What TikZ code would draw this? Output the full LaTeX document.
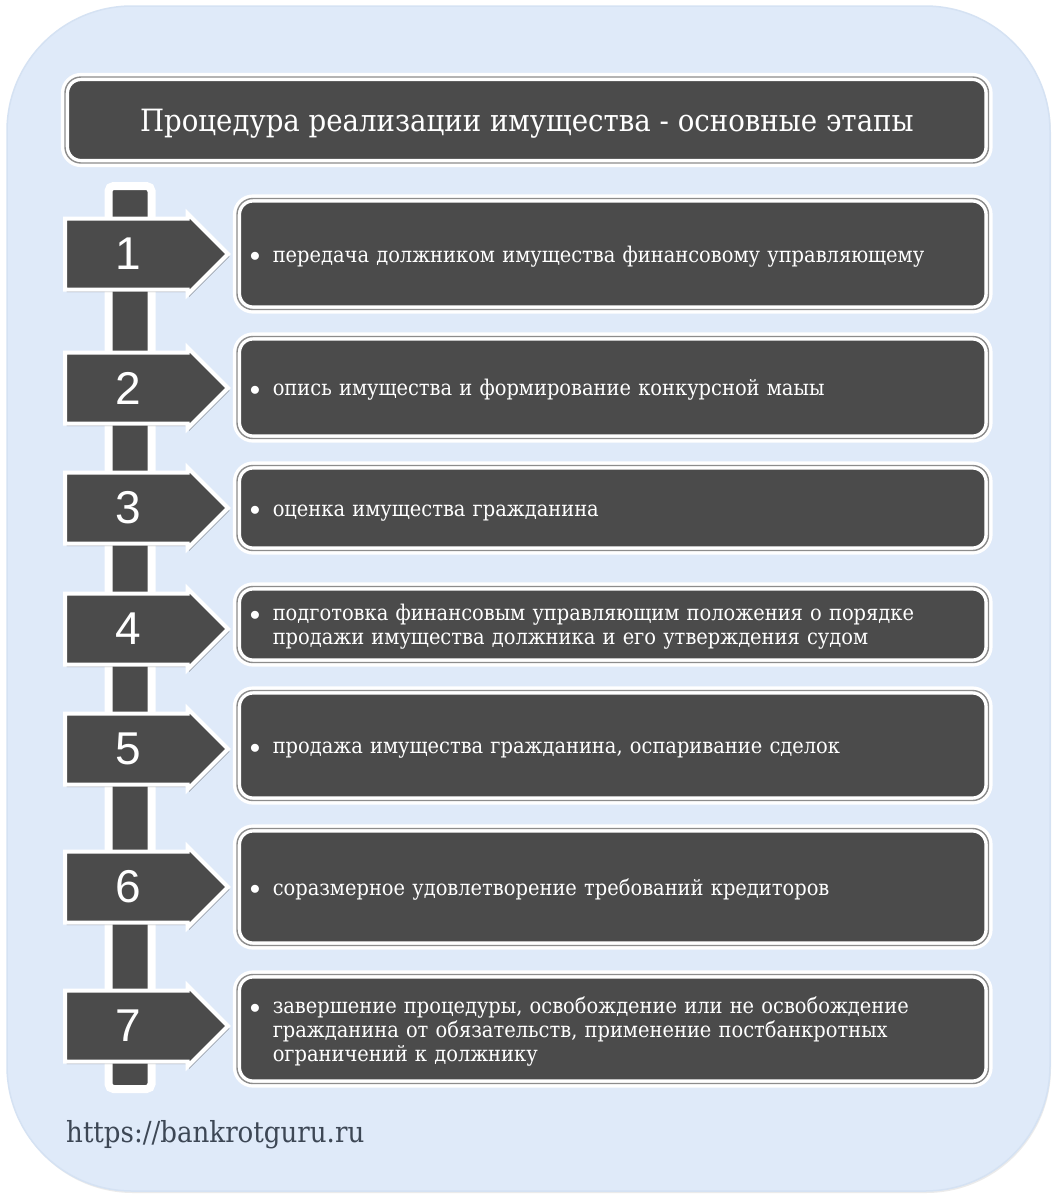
\documentclass[tikz,border=0pt]{standalone}
\usepackage{fontspec}
\setmainfont{DejaVu Serif Condensed}
\newfontfamily\numfont{Liberation Sans}
\usetikzlibrary{shapes.arrows, shadows}
\definecolor{panelblue}{HTML}{DFEAF9}
\definecolor{paneledge}{HTML}{D5E2F3}
\definecolor{boxdark}{HTML}{4B4B4B}
\definecolor{ringgray}{HTML}{8C8C8C}
\definecolor{urlgray}{HTML}{3D4755}
\tikzset{
  softshadow/.style={drop shadow={shadow xshift=1.5pt, shadow yshift=-2.5pt, fill=black, opacity=0.3}},
  framebox/.style={rectangle, rounded corners=16pt, fill=boxdark, draw=white, double=ringgray,
    line width=3.4pt, double distance=1.4pt, softshadow, text=white, inner sep=0pt},
  stepbox/.style={framebox, minimum width=751.5pt, text width=726pt, align=left, inner xsep=12.75pt,
    font=\fontsize{21.6}{23.8}\selectfont},
  numarrow/.style={single arrow, single arrow head extend=5pt, minimum height=163pt, minimum width=77pt,
    inner xsep=0pt, inner ysep=33.5pt, fill=boxdark, draw=white, line width=4pt, softshadow, anchor=tail},
  numtext/.style={text=white, font=\numfont\fontsize{46}{46}\selectfont, inner sep=0pt},
}
\newcommand{\bulleted}[1]{\rule{0pt}{21.5pt}\makebox[23pt][l]{\raisebox{0.5pt}{$\bullet$}}\begin{minipage}[t]{703pt}\raggedright #1\end{minipage}}

\begin{document}
\begin{tikzpicture}[x=1pt,y=-1pt]
\useasboundingbox[fill=white] (0,0) rectangle (1057,1200);

\draw[fill=panelblue, draw=paneledge, line width=1.5pt, rounded corners=125pt,
  drop shadow={shadow xshift=1pt, shadow yshift=-2pt, fill=black, opacity=0.08}] (7,6) rectangle (1050,1191);

\node[framebox, minimum width=923.5pt, minimum height=86pt, font=\fontsize{30.7}{36}\selectfont] (title) at (526.75,120)
  {\rule{0pt}{30pt}Процедура реализации имущества - основные этапы};

\node[rectangle, rounded corners=5pt, fill=boxdark, draw=white, line width=8pt, softshadow,
  minimum width=43pt, minimum height=903pt, inner sep=0pt] (bar) at (130,637.5) {};

\node[numarrow] (arrow1) at (63,254) {};
\node[numtext] (num1) at (128,254) {1};
\node[numarrow] (arrow2) at (63,388) {};
\node[numtext] (num2) at (128,388) {2};
\node[numarrow] (arrow3) at (63,508) {};
\node[numtext] (num3) at (128,508) {3};
\node[numarrow] (arrow4) at (63,629) {};
\node[numtext] (num4) at (128,629) {4};
\node[numarrow] (arrow5) at (63,749) {};
\node[numtext] (num5) at (128,749) {5};
\node[numarrow] (arrow6) at (63,887) {};
\node[numtext] (num6) at (128,887) {6};
\node[numarrow] (arrow7) at (63,1026) {};
\node[numtext] (num7) at (128,1026) {7};

\node[stepbox, minimum height=111pt] (step1) at (612.75,254)
  {\bulleted{передача должником имущества финансовому управляющему}};
\node[stepbox, minimum height=102pt] (step2) at (612.75,387.5)
  {\bulleted{опись имущества и формирование конкурсной маыы}};
\node[stepbox, minimum height=85pt] (step3) at (612.75,508)
  {\bulleted{оценка имущества гражданина}};
\node[stepbox, minimum height=76pt] (step4) at (612.75,624.5)
  {\bulleted{подготовка финансовым управляющим положения о порядке\\продажи имущества должника и его утверждения судом}};
\node[stepbox, minimum height=110pt] (step5) at (612.75,745.5)
  {\bulleted{продажа имущества гражданина, оспаривание сделок}};
\node[stepbox, minimum height=117pt] (step6) at (612.75,887)
  {\bulleted{соразмерное удовлетворение требований кредиторов}};
\node[stepbox, minimum height=109pt] (step7) at (612.75,1029)
  {\bulleted{завершение процедуры, освобождение или не освобождение\\гражданина от обязательств, применение постбанкротных\\ограничений к должнику}};

\node[anchor=west, inner sep=0pt, text=urlgray, font=\fontsize{29}{34}\selectfont] (url) at (66,1135) {https://bankrotguru.ru};
\end{tikzpicture}
\end{document}
